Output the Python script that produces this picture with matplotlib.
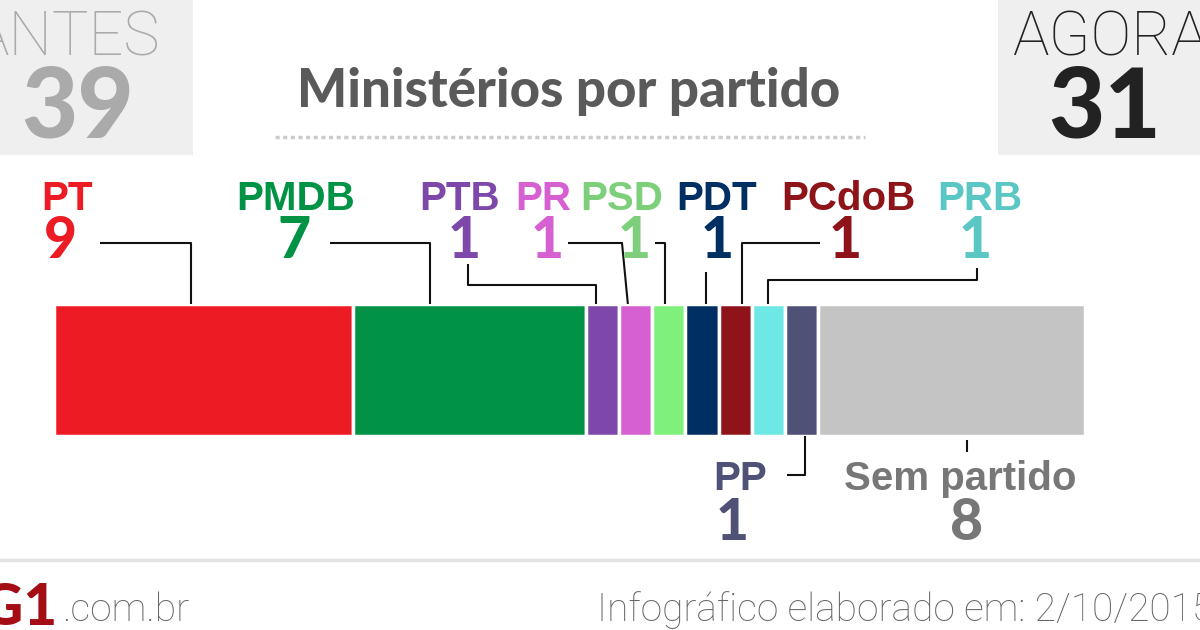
import matplotlib
matplotlib.use('Agg')
import numpy as np
import matplotlib.pyplot as plt

# data
parties = ['PT', 'PMDB', 'PTB', 'PR', 'PSD', 'PDT', 'PCdoB', 'PRB', 'PP', 'Sem partido']
ministries = [9, 7, 1, 1, 1, 1, 1, 1, 1, 8]
before_total = 39
after_total = 31

bar_colors = ['#ed1c24', '#009245', '#7d48a9', '#d65fd1', '#80f07c',
              '#002f63', '#8f1419', '#6ee8e4', '#4f5176', '#c4c4c4']
text_colors = ['#ed1c24', '#009245', '#7d48a9', '#d65fd1', '#7dcf7b',
               '#002f63', '#8f1419', '#5bc7c4', '#4f5176', '#777777']

# layout (image pixel coords, y from top)
name_pos = [(67, 210), (296, 210), (460, 210), (543, 210), (622, 210),
            (717, 210), (848, 210), (980, 210), (740, 490), (960, 490)]
num_pos = [(60, 258), (294, 258), (464, 258), (547, 258), (634, 258),
           (717, 258), (845, 258), (975, 258), (732, 540), (967, 540)]
attach_frac = [0.46, 0.33, 0.31, 0.27, 0.39, 0.62, 0.70, 0.48, 0.60, 0.56]
# 'A' = attach x on the bar, 'T'/'B' = bar top/bottom
leaders = [
    [(100, 243), ('A', 243), ('A', 'T')],
    [(330, 243), ('A', 243), ('A', 'T')],
    [(468, 264), (468, 285), ('A', 285), ('A', 'T')],
    [(568, 243), (622, 243), ('A', 'T')],
    [(655, 243), ('A', 243), ('A', 'T')],
    [('A', 272), ('A', 'T')],
    [(820, 243), ('A', 243), ('A', 'T')],
    [(977, 268), (977, 280), ('A', 280), ('A', 'T')],
    [('A', 'B'), ('A', 475), (787, 475)],
    [('A', 440), ('A', 452)],
]

W, H = 1200, 630
fig = plt.figure(figsize=(W / 100, H / 100), dpi=100)
fig.patch.set_facecolor('white')
ax = fig.add_axes([0, 0, 1, 1])
ax.set_xlim(0, W)
ax.set_ylim(H, 0)
ax.axis('off')

# bar strip
bx0, bx1, by0, by1 = 53.5, 1084.5, 304, 436
ax_bar = fig.add_axes([bx0 / W, 1 - by1 / H, (bx1 - bx0) / W, (by1 - by0) / H])
ax_bar.set_xlim(0, sum(ministries))
ax_bar.set_ylim(0, 1)
ax_bar.axis('off')
lefts = np.concatenate([[0], np.cumsum(ministries)[:-1]])
ax_bar.barh(0.5, ministries, left=lefts, height=1.0, color=bar_colors,
            edgecolor='white', linewidth=2.5)


def to_px(xu, yf):
    d = ax_bar.transData.transform((xu, yf))
    return ax.transData.inverted().transform(d)


bar_top = to_px(0, 1)[1]
bar_bot = to_px(0, 0)[1]

for i, p in enumerate(parties):
    ax_x = to_px(lefts[i] + attach_frac[i] * ministries[i], 0)[0]
    xs, ys = [], []
    for px, py in leaders[i]:
        xs.append(ax_x if px == 'A' else px)
        ys.append(bar_top if py == 'T' else bar_bot if py == 'B' else py)
    ax.plot(xs, ys, color='#111111', lw=1.5, solid_capstyle='butt')

    nx, ny = name_pos[i]
    ax.text(nx, ny, p, color=text_colors[i], fontsize=29, fontweight='bold',
            family='Liberation Sans', ha='center', va='baseline')
    mx, my = num_pos[i]
    ax.text(mx, my, str(ministries[i]), color=text_colors[i], fontsize=41,
            fontweight='black', family='Lato', ha='center', va='baseline')

# header boxes
ax.add_patch(plt.Rectangle((0, 0), 193, 155, color='#efefef', lw=0))
ax.add_patch(plt.Rectangle((998, 0), 202, 155, color='#efefef', lw=0))
ax.text(160, 55, 'ANTES', color='#aaaaaa', fontsize=44, fontweight='light',
        family='Roboto', ha='right', va='baseline')
ax.text(78, 137, str(before_total), color='#aaaaaa', fontsize=70,
        fontweight='black', family='Lato', ha='center', va='baseline')
ax.text(1012, 55, 'AGORA', color='#222222', fontsize=44, fontweight='light',
        family='Roboto', ha='left', va='baseline')
ax.text(1105, 137, str(after_total), color='#222222', fontsize=70,
        fontweight='black', family='Lato', ha='center', va='baseline')

# title
ax.text(569, 107, 'Ministérios por partido', color='#5a5a5a', fontsize=38,
        fontweight='black', family='Lato', ha='center', va='baseline')
ax.plot([275, 865], [137, 137], color='#cccccc', lw=2.5,
        linestyle=(0, (1.2, 1.0)))

# footer
ax.plot([0, W], [560, 560], color='#e2e2e2', lw=2.5)
ax.text(57, 625, 'G1', color='#a50d15', fontsize=42, fontweight='black',
        family='Lato', ha='right', va='baseline')
ax.text(62, 621, '.com.br', color='#666666', fontsize=28, fontweight='light',
        family='Roboto', ha='left', va='baseline')
ax.text(597, 621, 'Infográfico elaborado em: 2/10/2015', color='#666666',
        fontsize=28, fontweight='light', family='Roboto', ha='left',
        va='baseline')

fig.savefig('out.png', dpi=100)
